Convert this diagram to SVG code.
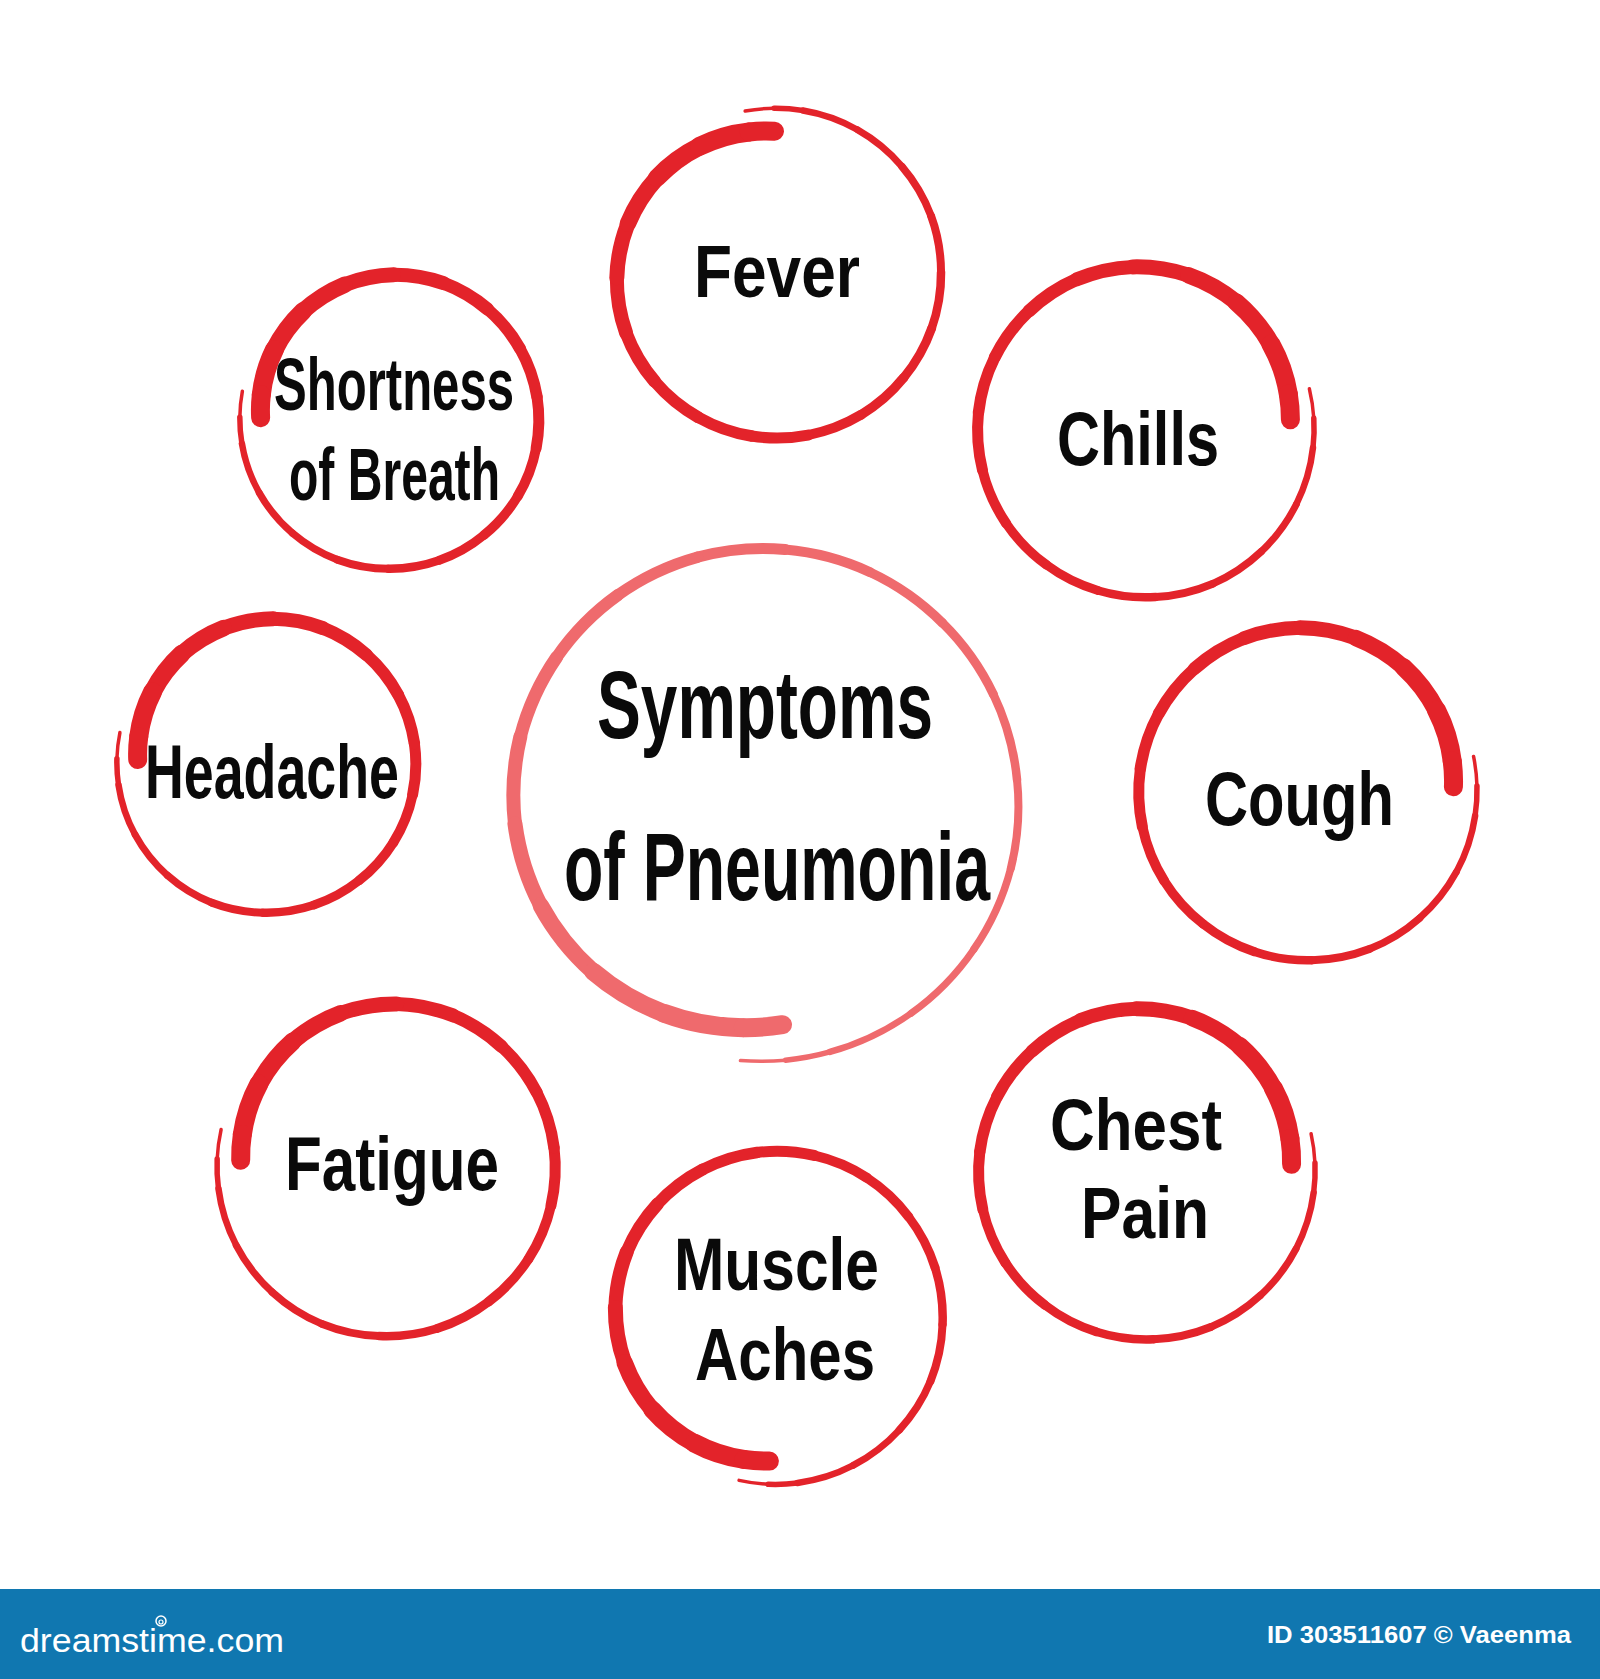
<svg xmlns="http://www.w3.org/2000/svg" width="1600" height="1679" viewBox="0 0 1600 1679">
<style>
  .seg path { vector-effect: non-scaling-stroke; }
  .lbl { font-family: "Liberation Sans", Arial, sans-serif; font-weight: bold; fill: #0a0a0a; }
  .ring { fill: none; stroke: #E3232A; }
  .ring-c { fill: none; stroke: #EF6A6D; }
  .foot { font-family: "Liberation Sans", Arial, sans-serif; fill: #ffffff; }
</style>
<defs>
  <g id="ring" class="seg" stroke-linecap="round">
    <path stroke-width="3.5" d="M170.4,-30 A173,173 0 0 1 172.8,0"/>
    <path stroke-width="5.5" d="M172.8,0 A173,173 0 0 1 169.9,29.9"/>
    <path stroke-width="6.5" d="M169.9,29.9 A172,172 0 0 1 149,86"/>
    <path stroke-width="7" d="M149,86 A172,172 0 0 1 110.2,131.4"/>
    <path stroke-width="7.5" d="M110.2,131.4 A171,171 0 0 1 58.5,160.7"/>
    <path stroke-width="8" d="M58.5,160.7 A170,170 0 0 1 0,170"/>
    <path stroke-width="8.5" d="M0,170 A170,170 0 0 1 -58,159.3"/>
    <path stroke-width="9" d="M-58,159.3 A169,169 0 0 1 -108.6,129.5"/>
    <path stroke-width="9.5" d="M-108.6,129.5 A169,169 0 0 1 -146.4,84.5"/>
    <path stroke-width="10" d="M-146.4,84.5 A169,169 0 0 1 -166.4,29.3"/>
    <path stroke-width="11" d="M-166.4,29.3 A169,169 0 0 1 -166.4,-29.3"/>
    <path stroke-width="11.5" d="M-166.4,-29.3 A169,169 0 0 1 -145.9,-84.3"/>
    <path stroke-width="12" d="M-145.9,-84.3 A168,168 0 0 1 -108,-128.7"/>
    <path stroke-width="13" d="M-108,-128.7 A168,168 0 0 1 -57.3,-157.4"/>
    <path stroke-width="14" d="M-57.3,-157.4 A167,167 0 0 1 0,-166"/>
    <path stroke-width="15" d="M0,-166 A165,165 0 0 1 55.9,-153.6"/>
    <path stroke-width="16.5" d="M55.9,-153.6 A162,162 0 0 1 102.8,-122.6"/>
    <path stroke-width="18" d="M102.8,-122.6 A158,158 0 0 1 134.7,-77.8"/>
    <path stroke-width="19" d="M134.7,-77.8 A154,154 0 0 1 148.7,-26.2"/>
    <path stroke-width="19" d="M148.7,-26.2 A150,150 0 0 1 149,0"/>
  </g>
</defs>

<rect x="0" y="0" width="1600" height="1679" fill="#ffffff"/>

<g id="connectors"></g>

<g id="center">
  <use href="#ring" class="ring-c" transform="translate(763,802) rotate(85) scale(1.5,-1.5)"/>
  <text class="lbl" x="597" y="738" font-size="97" textLength="336" lengthAdjust="spacingAndGlyphs">Symptoms</text>
  <text class="lbl" x="564" y="900" font-size="97" textLength="426" lengthAdjust="spacingAndGlyphs">of Pneumonia</text>
</g>

<g id="fever">
  <use href="#ring" class="ring" transform="translate(777,275) rotate(-91) scale(0.965)"/>
  <text class="lbl" x="694" y="297" font-size="75" textLength="166" lengthAdjust="spacingAndGlyphs">Fever</text>
</g>

<g id="chills">
  <use href="#ring" class="ring" transform="translate(1144,430) rotate(-4) scale(0.985)"/>
  <text class="lbl" x="1057" y="465" font-size="76" textLength="162" lengthAdjust="spacingAndGlyphs">Chills</text>
</g>

<g id="cough">
  <use href="#ring" class="ring" transform="translate(1306,792) rotate(-2) scale(0.99)"/>
  <text class="lbl" x="1205" y="825" font-size="76" textLength="189" lengthAdjust="spacingAndGlyphs">Cough</text>
</g>

<g id="chest-pain">
  <use href="#ring" class="ring" transform="translate(1145,1172) rotate(-3) scale(0.985)"/>
  <text class="lbl" x="1050" y="1150" font-size="73" textLength="172" lengthAdjust="spacingAndGlyphs">Chest</text>
  <text class="lbl" x="1081" y="1238" font-size="73" textLength="128" lengthAdjust="spacingAndGlyphs">Pain</text>
</g>

<g id="muscle-aches">
  <use href="#ring" class="ring" transform="translate(777,1316) rotate(93) scale(0.975,-0.975)"/>
  <text class="lbl" x="674" y="1290" font-size="74" textLength="205" lengthAdjust="spacingAndGlyphs">Muscle</text>
  <text class="lbl" x="695" y="1380" font-size="74" textLength="180" lengthAdjust="spacingAndGlyphs">Aches</text>
</g>

<g id="fatigue">
  <use href="#ring" class="ring" transform="translate(388,1168) rotate(183) scale(0.99,-0.99)"/>
  <text class="lbl" x="285" y="1190" font-size="76" textLength="214" lengthAdjust="spacingAndGlyphs">Fatigue</text>
</g>

<g id="headache">
  <use href="#ring" class="ring" transform="translate(268,764) rotate(182) scale(0.875,-0.875)"/>
  <text class="lbl" x="145" y="798" font-size="76" textLength="254" lengthAdjust="spacingAndGlyphs">Headache</text>
</g>

<g id="shortness-of-breath">
  <use href="#ring" class="ring" transform="translate(391,420) rotate(181) scale(0.875,-0.875)"/>
  <text class="lbl" x="274" y="410" font-size="74" textLength="240" lengthAdjust="spacingAndGlyphs">Shortness</text>
  <text class="lbl" x="289" y="500" font-size="74" textLength="211" lengthAdjust="spacingAndGlyphs">of Breath</text>
</g>

<g id="footer">
  <rect x="0" y="1589" width="1600" height="90" fill="#1077B0"/>
  <circle cx="161" cy="1621" r="5" fill="none" stroke="#ffffff" stroke-width="1.5"/>
  <circle cx="161" cy="1622" r="2" fill="none" stroke="#ffffff" stroke-width="1.2"/>
  <text class="foot" x="20" y="1652" font-size="34" textLength="264" lengthAdjust="spacingAndGlyphs">dreamstime.com</text>
  <text class="foot" x="1267" y="1643" font-size="23" font-weight="bold" textLength="304" lengthAdjust="spacingAndGlyphs">ID 303511607 © Vaeenma</text>
</g>
</svg>
